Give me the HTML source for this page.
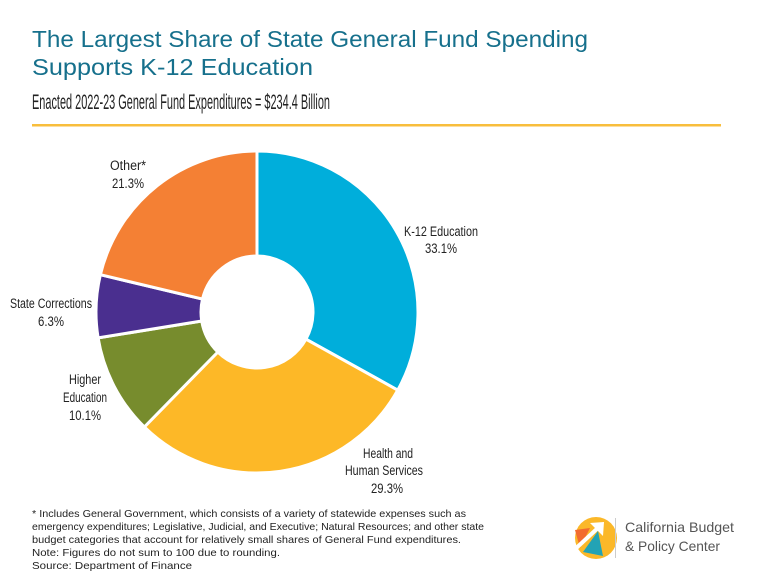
<!DOCTYPE html>
<html><head><meta charset="utf-8"><style>
html,body{margin:0;padding:0;background:#fff;}
svg{display:block;font-family:"Liberation Sans",sans-serif;}
</style></head><body>
<svg id="s" width="768" height="576" viewBox="0 0 768 576" xmlns="http://www.w3.org/2000/svg">
<rect width="768" height="576" fill="#fff"/>
<g fill="#16708c" font-size="23">
<text x="32" y="47" textLength="556" lengthAdjust="spacingAndGlyphs">The Largest Share of State General Fund Spending</text>
<text x="32" y="75" textLength="281" lengthAdjust="spacingAndGlyphs">Supports K-12 Education</text>
</g>
<text x="32" y="109" font-size="21" fill="#222" textLength="298" lengthAdjust="spacingAndGlyphs">Enacted 2022-23 General Fund Expenditures = $234.4 Billion</text>
<rect x="32" y="124" width="689" height="2.5" fill="#f8be3c"/>
<g id="pie"></g>
<g font-size="13.5" fill="#222" text-anchor="middle">
<text x="128" y="170" textLength="36" lengthAdjust="spacingAndGlyphs">Other*</text>
<text x="128" y="188" textLength="32" lengthAdjust="spacingAndGlyphs">21.3%</text>
<text x="441" y="236" textLength="74" lengthAdjust="spacingAndGlyphs">K-12 Education</text>
<text x="441" y="253" textLength="32" lengthAdjust="spacingAndGlyphs">33.1%</text>
<text x="388" y="458" textLength="50" lengthAdjust="spacingAndGlyphs">Health and</text>
<text x="384" y="475" textLength="78" lengthAdjust="spacingAndGlyphs">Human Services</text>
<text x="387" y="493" textLength="32" lengthAdjust="spacingAndGlyphs">29.3%</text>
<text x="51" y="308" textLength="82" lengthAdjust="spacingAndGlyphs">State Corrections</text>
<text x="51" y="326" textLength="26" lengthAdjust="spacingAndGlyphs">6.3%</text>
<text x="85" y="384" textLength="32" lengthAdjust="spacingAndGlyphs">Higher</text>
<text x="85" y="402" textLength="44" lengthAdjust="spacingAndGlyphs">Education</text>
<text x="85" y="420" textLength="32" lengthAdjust="spacingAndGlyphs">10.1%</text>
</g>
<g font-size="10.5" fill="#222">
<text x="32" y="517" textLength="434" lengthAdjust="spacingAndGlyphs">* Includes General Government, which consists of a variety of statewide expenses such as</text>
<text x="32" y="530" textLength="452" lengthAdjust="spacingAndGlyphs">emergency expenditures; Legislative, Judicial, and Executive; Natural Resources; and other state</text>
<text x="32" y="543" textLength="429" lengthAdjust="spacingAndGlyphs">budget categories that account for relatively small shares of General Fund expenditures.</text>
<text x="32" y="556" textLength="248" lengthAdjust="spacingAndGlyphs">Note: Figures do not sum to 100 due to rounding.</text>
<text x="32" y="569" textLength="160" lengthAdjust="spacingAndGlyphs">Source: Department of Finance</text>
</g>
<g>
<circle cx="596" cy="538" r="21" fill="#fbb829"/>
<path d="M575 530 L590 528 L580 548 Z" fill="#f26b2f"/>
<path d="M583 552 L598 531 L603 556 Z" fill="#23a3b5"/>
<path d="M572 552 L600 526" stroke="#fff" stroke-width="4"/>
<path d="M590 523 L604 522 L603 536 Z" fill="#fff"/>
<rect x="615" y="518" width="1" height="40" fill="#ccc"/>
<text x="625" y="532" font-size="14" fill="#555" textLength="109" lengthAdjust="spacingAndGlyphs">California Budget</text>
<text x="625" y="551" font-size="14" fill="#555" textLength="95" lengthAdjust="spacingAndGlyphs">&amp; Policy Center</text>
</g>
</svg>
<script>
(function(){
var cx=257,cy=312,R=161,r=56;
var d=[[33.1,"#00aedb"],[29.3,"#fdb827"],[10.1,"#778c2d"],[6.3,"#4a2f8f"],[21.3,"#f48034"]];
var tot=100.1,a=0,g=document.getElementById("pie"),ns="http://www.w3.org/2000/svg";
function p(rad,ang){var t=ang*Math.PI/180;return (cx+rad*Math.sin(t)).toFixed(2)+" "+(cy-rad*Math.cos(t)).toFixed(2);}
d.forEach(function(s){var b=a+s[0]/tot*360;var l=(b-a)>180?1:0;
var path=document.createElementNS(ns,"path");
path.setAttribute("d","M"+p(R,a)+" A"+R+" "+R+" 0 "+l+" 1 "+p(R,b)+" L"+p(r,b)+" A"+r+" "+r+" 0 "+l+" 0 "+p(r,a)+" Z");
path.setAttribute("fill",s[1]);path.setAttribute("stroke","#fff");path.setAttribute("stroke-width","3");
g.appendChild(path);a=b;});
})();
</script>
</body></html>
